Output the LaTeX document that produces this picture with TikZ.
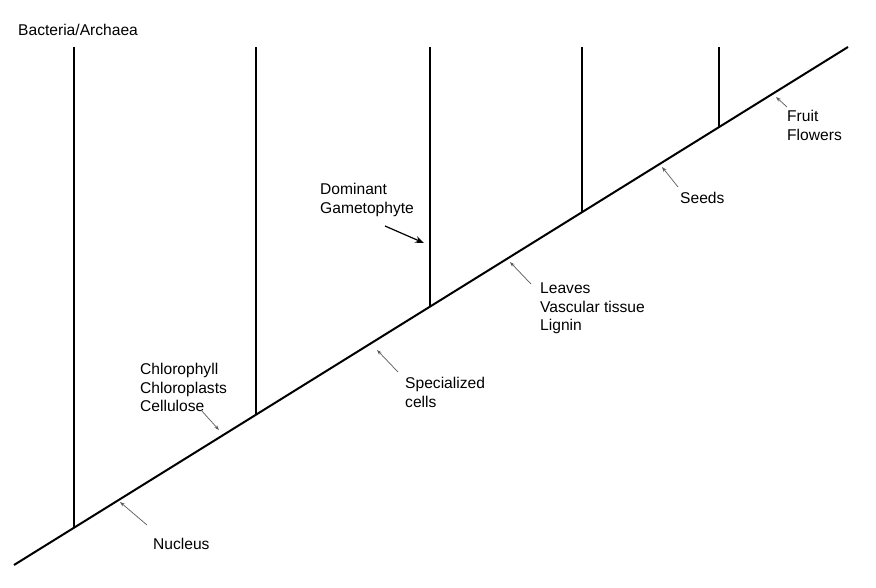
\documentclass[tikz,border=0pt]{standalone}
\usepackage{fontspec}
\setmainfont{Liberation Sans}
\usetikzlibrary{arrows.meta}
\begin{document}
\begin{tikzpicture}[x=1pt,y=-1pt,
  trunk/.style={line width=2pt,black},
  lbl/.style={font=\fontsize{15.6}{18.5}\selectfont,align=left,inner sep=0pt,anchor=north west},
  ptr/.style={gray!70!black,line width=0.7pt,-{Stealth[length=5pt,width=3.5pt]}},
  bigptr/.style={black,line width=1.2pt,-{Stealth[length=9pt,width=7pt]}}]
\useasboundingbox (0,0) rectangle (876,588);
\coordinate (s) at (14,565);
\coordinate (e) at (848,47);
\draw[trunk] (s) -- (e);
\foreach \n/\x/\y in {a/74/527.7,b/256/414.7,c/430/306.6,d/582/212.3,f/719/127.2}{
  \coordinate (\n b) at (\x,\y);
  \coordinate (\n t) at (\x,47);
  \draw[trunk] (\n b) -- (\n t);
}
\node[lbl,anchor=west] (bac) at (18,30) {Bacteria/Archaea};
\node[lbl,anchor=west] (nuc) at (153,544) {Nucleus};
\coordinate (nuct) at (147,525); \coordinate (nuch) at (120,502);
\draw[ptr] (nuct) -- (nuch);
\node[lbl] (chl) at (140,363) {Chlorophyll\\Chloroplasts\\Cellulose};
\coordinate (chlt) at (201,410); \coordinate (chlh) at (219,430);
\draw[ptr] (chlt) -- (chlh);
\node[lbl] (spc) at (405,377) {Specialized\\cells};
\coordinate (spct) at (398,372); \coordinate (spch) at (377,350);
\draw[ptr] (spct) -- (spch);
\node[lbl] (lea) at (540,283) {Leaves\\Vascular tissue\\Lignin};
\coordinate (leat) at (531,284); \coordinate (leah) at (510,262);
\draw[ptr] (leat) -- (leah);
\node[lbl,anchor=west] (sed) at (680,198) {Seeds};
\coordinate (sedt) at (678,187); \coordinate (sedh) at (662,167);
\draw[ptr] (sedt) -- (sedh);
\node[lbl] (fru) at (787,110) {Fruit\\Flowers};
\coordinate (frut) at (787,107); \coordinate (fruh) at (776,97);
\draw[ptr] (frut) -- (fruh);
\node[lbl] (dom) at (320,183) {Dominant\\Gametophyte};
\coordinate (domt) at (385,226); \coordinate (domh) at (424,243);
\draw[bigptr] (domt) -- (domh);
\end{tikzpicture}
\end{document}
